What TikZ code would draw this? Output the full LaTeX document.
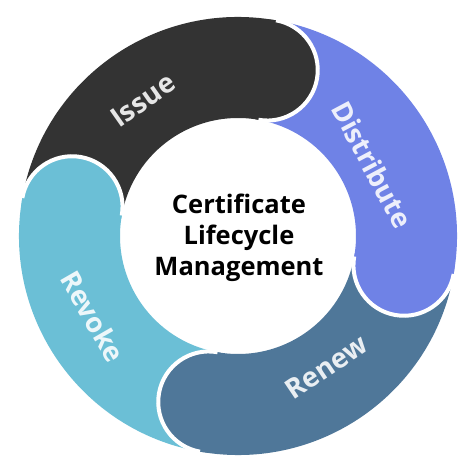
\documentclass[tikz,border=0pt]{standalone}
\usepackage{fontspec}
\setmainfont{Open Sans}
\definecolor{issuecol}{HTML}{333333}
\definecolor{distcol}{HTML}{6F82E6}
\definecolor{renewcol}{HTML}{4F7799}
\definecolor{revokecol}{HTML}{6BBFD6}
\tikzset{
  capline/.style={white, line width=4pt},
  steplabel/.style={text=white, text opacity=0.88, font=\bfseries\fontsize{27.5}{27.5}\selectfont, inner sep=0pt}
}
\begin{document}
\begin{tikzpicture}[x=1pt,y=1pt]
      \useasboundingbox[fill=white] (-238,-240) rectangle (236,236);
      \fill[issuecol] (170:219) arc[start angle=170, end angle=80, radius=219]
        -- (80:118) arc[start angle=80, end angle=170, radius=118] -- cycle;
      \fill[distcol] (80:219) arc[start angle=80, end angle=-10, radius=219]
        -- (-10:118) arc[start angle=-10, end angle=80, radius=118] -- cycle;
      \fill[renewcol] (-10:219) arc[start angle=-10, end angle=-100, radius=219]
        -- (-100:118) arc[start angle=-100, end angle=-10, radius=118] -- cycle;
      \fill[revokecol] (-100:219) arc[start angle=-100, end angle=-190, radius=219]
        -- (-190:118) arc[start angle=-190, end angle=-100, radius=118] -- cycle;
      \begin{scope}
        \fill[issuecol] (80:168.5) circle (50.5);
        \draw[capline] (80:219) arc[start angle=80, end angle=-100, radius=50.5];
        \fill[distcol] (-10:168.5) circle (50.5);
        \draw[capline] (-10:219) arc[start angle=-10, end angle=-190, radius=50.5];
        \fill[renewcol] (-100:168.5) circle (50.5);
        \draw[capline] (-100:219) arc[start angle=-100, end angle=-280, radius=50.5];
        \fill[revokecol] (170:168.5) circle (50.5);
        \draw[capline] (170:219) arc[start angle=170, end angle=-10, radius=50.5];
      \end{scope}
      \draw
        (125:166) node[steplabel, rotate=35] (issue){Issue}
        (28:152) node[steplabel, rotate=-62] (distribute){Distribute}
        (-56:158) node[steplabel, rotate=34] (renew){Renew}
        (209:166) node[steplabel, rotate=-60] (revoke){Revoke};
      \node[align=center, font=\bfseries\fontsize{25.5}{31}\selectfont] (title) at (1,-2)
        {Certificate\\Lifecycle\\Management};
    \end{tikzpicture}
\end{document}
